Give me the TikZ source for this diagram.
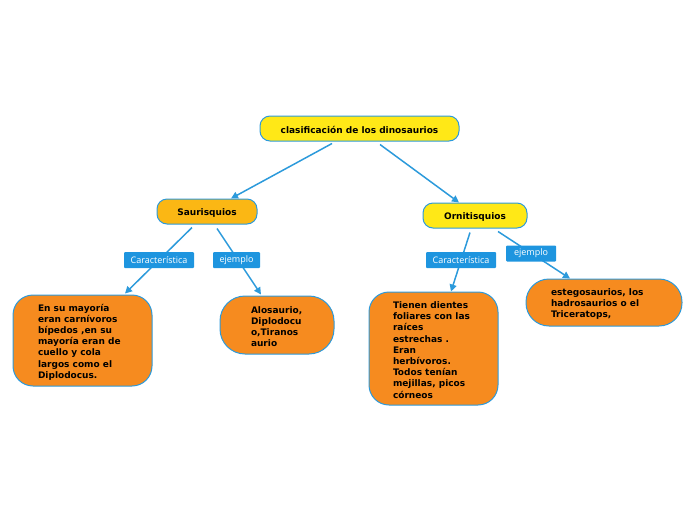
\documentclass[tikz,border=0pt]{standalone}
\usepackage{fontspec}
\setmainfont{DejaVu Sans}
\newfontfamily\labfont{Open Sans}
\usetikzlibrary{arrows.meta,calc}
\definecolor{bdr}{HTML}{2C9ADB}
\definecolor{yel}{HTML}{FFE817}
\definecolor{yelor}{HTML}{FBB714}
\definecolor{ora}{HTML}{F68B1F}
\definecolor{labblue}{HTML}{1E95DF}
\newcommand\lowtext[1]{\raisebox{-1.5pt}[\height][\depth]{#1}}
\newcommand\leaftext[2]{\raisebox{-1.5pt}[\height][\depth]{\parbox{#1}{\raggedright #2}}}
\tikzset{
  topbox/.style={draw=bdr,line width=1pt,rounded corners=10pt,inner sep=0pt,
    font=\bfseries\fontsize{9}{11}\selectfont,text=black},
  leafbox/.style={draw=bdr,line width=1pt,fill=ora,inner sep=0pt,
    font=\bfseries\fontsize{9}{11.2}\selectfont,text=black},
  lab/.style={fill=labblue,text=white,inner sep=0pt,rounded corners=1pt,
    minimum height=16pt,font=\labfont\fontsize{9}{10}\selectfont},
  conn/.style={draw=bdr,line width=1.5pt,-{Triangle[length=7pt,width=7pt]}}
}
\begin{document}
\begin{tikzpicture}[x=1pt,y=-1pt]
\useasboundingbox (0,0) rectangle (696,520);
\node[topbox,fill=yel,minimum width=199pt,minimum height=25pt] (root) at (359.5,128.5) {\lowtext{clasificación de los dinosaurios}};
\node[topbox,fill=yelor,minimum width=100pt,minimum height=25pt] (saur) at (207,211.5) {\lowtext{Saurisquios}};
\node[topbox,fill=yel,minimum width=104pt,minimum height=25pt] (orni) at (475,215.5) {\lowtext{Ornitisquios}};
\node[leafbox,rounded corners=20pt,minimum width=139pt,minimum height=91pt] (car1) at (82.5,340.5)
  {\leaftext{89pt}{En su mayoría\\eran carnívoros\\bípedos ,en su\\mayoría eran de\\cuello y cola\\largos como el\\Diplodocus.}};
\node[leafbox,rounded corners=25pt,minimum width=114pt,minimum height=58pt] (ej1) at (277,325)
  {\leaftext{52pt}{Alosaurio,\\Diplodocu\\o,Tiranos\\aurio}};
\node[leafbox,rounded corners=20pt,minimum width=129pt,minimum height=113pt] (car2) at (433.5,348.5)
  {\leaftext{81pt}{Tienen dientes\\foliares con las\\raíces\\estrechas .\\Eran\\herbívoros.\\Todos tenían\\mejillas, picos\\córneos}};
\node[leafbox,rounded corners=23pt,minimum width=156pt,minimum height=47pt] (ej2) at (604,302.5)
  {\leaftext{106pt}{estegosaurios, los\\hadrosaurios o el\\Triceratops,}};
\draw[conn] ([xshift=-27.5pt,yshift=-2pt]root.south) -- ([xshift=24pt]saur.north);
\draw[conn] ([xshift=20.5pt,yshift=-3pt]root.south) -- ([xshift=-16pt]orni.north);
\draw[conn] ([xshift=-15pt,yshift=-3pt]saur.south) -- ([xshift=42.5pt,yshift=1pt]car1.north);
\draw[conn] ([xshift=10pt,yshift=-4pt]saur.south) -- ([xshift=-16pt,yshift=1pt]ej1.north);
\draw[conn] ([xshift=-5pt,yshift=-4pt]orni.south) -- ([xshift=17.5pt]car2.north);
\draw[conn] ([xshift=23pt,yshift=-3pt]orni.south) -- ([xshift=-34pt]ej2.north);
\node[lab,minimum width=70pt] (l1) at (159,260) {Característica};
\node[lab,minimum width=47pt] (l2) at (236.5,260) {ejemplo};
\node[lab,minimum width=70pt] (l3) at (461,260) {Característica};
\node[lab,minimum width=50pt] (l4) at (531,253.5) {ejemplo};
\end{tikzpicture}
\end{document}
